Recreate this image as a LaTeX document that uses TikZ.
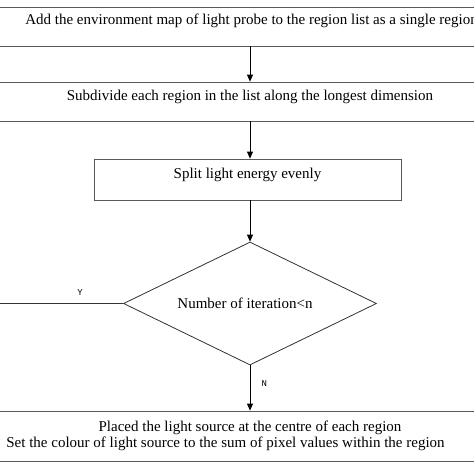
\documentclass[tikz,border=0pt]{standalone}
\usepackage{fontspec}
\setmainfont{Liberation Serif}
\newfontfamily\yesnofont{Liberation Mono}
\usetikzlibrary{arrows.meta,shapes.geometric,positioning}

\begin{document}
\begin{tikzpicture}[x=1pt,y=-1pt,>={Triangle[length=7pt,width=6pt]},
  line width=0.8pt,
  stepbox/.style={draw=black!65,rectangle,inner sep=0pt,font=\fontsize{15}{16}\selectfont},
  wide/.style={stepbox,minimum width=560pt},
  decide/.style={draw=black!80,diamond,aspect=2.06,minimum width=253pt,minimum height=123pt,inner sep=0pt,font=\fontsize{15}{16}\selectfont},
  yn/.style={font=\yesnofont\fontsize{9}{10}\selectfont}]
\useasboundingbox (0,0) rectangle (474,474);
\clip (0,0) rectangle (474,474);
\fill[white] (0,0) rectangle (474,474);
% boxes
\node[wide,text height=17pt,text depth=22pt] (add) at (251.5,26.5)
  {Add the environment map of light probe to the region list as a single region};
\node[wide,text height=18pt,text depth=21pt] (subdiv) at (250,101.5)
  {Subdivide each region in the list along the longest dimension};
\node[stepbox,minimum width=307pt,text height=19pt,text depth=22pt] (split) at (247.5,179.5)
  {Split light energy evenly};
\node[decide] (iter) at (250,303.5) {Number of iteration<n\hspace*{10pt}};
\node[wide,align=center,minimum height=50pt] (place) at (250,436)
  {Placed the light source at the centre of each region\\
   Set the colour of light source to the sum of pixel values within the region\hspace*{49pt}};
\coordinate (loop) at (0,303.5);
% connectors
\draw[->] (add.south -| 250,0) -- (subdiv.north -| 250,0);
\draw[->] (subdiv.south -| 250,0) -- (split.north -| 250,0);
\draw[->] (split.south -| 250,0) -- (iter.north);
\draw[->] (iter.south) -- node[yn,right=8pt,pos=0.4]{N} (place.north -| iter.south);
\draw[draw=black!80] (iter.west) -- node[yn,above=4pt,pos=0.35]{Y} (loop);
\end{tikzpicture}
\end{document}
